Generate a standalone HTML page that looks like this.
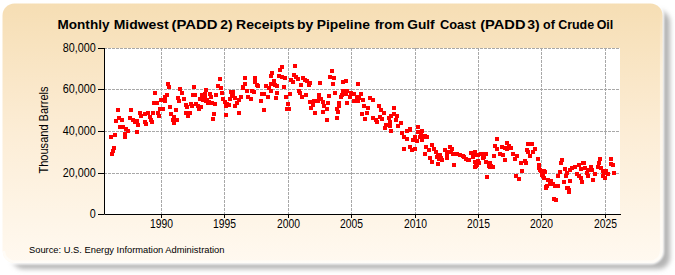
<!DOCTYPE html>
<html><head><meta charset="utf-8"><style>
html,body{margin:0;padding:0;background:#fff;width:675px;height:275px;overflow:hidden}
svg{display:block}
text{font-family:"Liberation Sans",sans-serif}
</style></head><body>
<svg width="675" height="275" viewBox="0 0 675 275">
<defs>
<linearGradient id="bg" x1="0" y1="0" x2="0" y2="1">
<stop offset="0" stop-color="#F6DEB4"/>
<stop offset="0.5" stop-color="#FCEDD6"/>
<stop offset="1" stop-color="#FFF9F0"/>
</linearGradient>
<linearGradient id="hl" x1="0" y1="0" x2="0" y2="1"><stop offset="0" stop-color="#fffdf9" stop-opacity="0"/><stop offset="0.25" stop-color="#fffdf9" stop-opacity="0.6"/><stop offset="1" stop-color="#fffdf9" stop-opacity="1"/></linearGradient>
<filter id="sh" x="-5%" y="-5%" width="110%" height="110%"><feGaussianBlur stdDeviation="2.5"/></filter>
<filter id="gl" x="-3%" y="-3%" width="106%" height="106%"><feGaussianBlur stdDeviation="1.3"/></filter>
<filter id="bl" x="-2%" y="-2%" width="104%" height="104%"><feGaussianBlur stdDeviation="0.7"/></filter>
</defs>
<rect x="12" y="10.5" width="658" height="258.5" rx="12" fill="#b4b4b4" filter="url(#sh)"/>
<rect x="2.5" y="3.5" width="660" height="259.5" rx="12" fill="none" stroke="#fff" stroke-width="3" filter="url(#gl)"/>
<g filter="url(#bl)"><rect x="2.5" y="3.5" width="660" height="259.5" rx="12" fill="url(#bg)"/>
<path d="M661.2 8V250.5A11 11 0 0 1 650.2 261.7H14.5A11 11 0 0 1 3.8 251" fill="none" stroke="url(#hl)" stroke-width="2.5" opacity="0.8"/></g>
<rect x="105" y="48" width="515" height="166" fill="#fff"/>
<path d="M104 48.5H620M104 89.5H620M104 131.5H620M104 173.5H620M161.5 48V214M224.5 48V214M288.5 48V214M351.5 48V214M415.5 48V214M478.5 48V214M541.5 48V214M605.5 48V214" stroke="#a8a8a8" stroke-width="1" stroke-dasharray="3 1" fill="none"/>
<path d="M104.5 48V214.5H621" stroke="#000" stroke-width="1" fill="none"/>
<path d="M98 48.5H104M98 89.5H104M98 131.5H104M98 173.5H104M98 214.5H104M161.5 214V218M224.5 214V218M288.5 214V218M351.5 214V218M415.5 214V218M478.5 214V218M541.5 214V218M605.5 214V218" stroke="#000" stroke-width="1" fill="none"/>
<g font-size="12" fill="#000"><text x="95.8" y="52" text-anchor="end" textLength="33.0" lengthAdjust="spacingAndGlyphs">80,000</text><text x="95.8" y="93" text-anchor="end" textLength="33.0" lengthAdjust="spacingAndGlyphs">60,000</text><text x="95.8" y="135" text-anchor="end" textLength="33.0" lengthAdjust="spacingAndGlyphs">40,000</text><text x="95.8" y="177" text-anchor="end" textLength="33.0" lengthAdjust="spacingAndGlyphs">20,000</text><text x="95.8" y="218" text-anchor="end" textLength="6.0" lengthAdjust="spacingAndGlyphs">0</text><text x="161.5" y="228" text-anchor="middle" textLength="23.0" lengthAdjust="spacingAndGlyphs">1990</text><text x="224.5" y="228" text-anchor="middle" textLength="23.0" lengthAdjust="spacingAndGlyphs">1995</text><text x="288.5" y="228" text-anchor="middle" textLength="23.0" lengthAdjust="spacingAndGlyphs">2000</text><text x="351.5" y="228" text-anchor="middle" textLength="23.0" lengthAdjust="spacingAndGlyphs">2005</text><text x="415.5" y="228" text-anchor="middle" textLength="23.0" lengthAdjust="spacingAndGlyphs">2010</text><text x="478.5" y="228" text-anchor="middle" textLength="23.0" lengthAdjust="spacingAndGlyphs">2015</text><text x="541.5" y="228" text-anchor="middle" textLength="23.0" lengthAdjust="spacingAndGlyphs">2020</text><text x="605.5" y="228" text-anchor="middle" textLength="23.0" lengthAdjust="spacingAndGlyphs">2025</text></g>
<g font-size="13.55" font-weight="bold" fill="#000"><text x="57.6" y="29" textLength="51.82" lengthAdjust="spacingAndGlyphs">Monthly</text><text x="113.67" y="29" textLength="55.07" lengthAdjust="spacingAndGlyphs">Midwest</text><text x="171.6" y="29" textLength="45.97" lengthAdjust="spacingAndGlyphs">(PADD</text><text x="220.3" y="29" textLength="12.4" lengthAdjust="spacingAndGlyphs">2)</text><text x="236.07" y="29" textLength="58.44" lengthAdjust="spacingAndGlyphs">Receipts</text><text x="297.07" y="29" textLength="16.34" lengthAdjust="spacingAndGlyphs">by</text><text x="316.78" y="29" textLength="53.07" lengthAdjust="spacingAndGlyphs">Pipeline</text><text x="374.7" y="29" textLength="29.59" lengthAdjust="spacingAndGlyphs">from</text><text x="407.3" y="29" textLength="27.39" lengthAdjust="spacingAndGlyphs">Gulf</text><text x="440.0" y="29" textLength="35.66" lengthAdjust="spacingAndGlyphs">Coast</text><text x="480.22" y="29" textLength="45.24" lengthAdjust="spacingAndGlyphs">(PADD</text><text x="527.3" y="29" textLength="12.4" lengthAdjust="spacingAndGlyphs">3)</text><text x="543.02" y="29" textLength="11.77" lengthAdjust="spacingAndGlyphs">of</text><text x="558.16" y="29" textLength="36.01" lengthAdjust="spacingAndGlyphs">Crude</text><text x="596.68" y="29" textLength="16.63" lengthAdjust="spacingAndGlyphs">Oil</text></g>
<text transform="translate(48,130) rotate(-90)" text-anchor="middle" font-size="12" textLength="87" lengthAdjust="spacingAndGlyphs" fill="#000">Thousand Barrels</text>
<text x="29" y="253" font-size="9.33" fill="#000">Source: U.S. Energy Information Administration</text>
<path d="M166 82h4v4h-4zM167 85h4v4h-4zM153 91h4v4h-4zM165 93h4v4h-4zM163 95h4v4h-4zM159 98h4v4h-4zM163 99h4v4h-4zM152 101h4v4h-4zM155 101h4v4h-4zM178 87h4v4h-4zM180 91h4v4h-4zM176 96h4v4h-4zM177 99h4v4h-4zM182 97h4v4h-4zM192 85h4v4h-4zM191 93h4v4h-4zM184 103h4v4h-4zM116 108h4v4h-4zM129 108h4v4h-4zM138 111h4v4h-4zM146 111h4v4h-4zM139 114h4v4h-4zM143 120h4v4h-4zM144 122h4v4h-4zM117 116h4v4h-4zM120 118h4v4h-4zM114 119h4v4h-4zM128 116h4v4h-4zM131 118h4v4h-4zM133 120h4v4h-4zM135 119h4v4h-4zM136 123h4v4h-4zM118 125h4v4h-4zM121 125h4v4h-4zM124 127h4v4h-4zM126 129h4v4h-4zM135 130h4v4h-4zM109 135h4v4h-4zM113 133h4v4h-4zM123 132h4v4h-4zM123 135h4v4h-4zM112 146h4v4h-4zM111 149h4v4h-4zM110 152h4v4h-4zM158 107h4v4h-4zM161 107h4v4h-4zM168 105h4v4h-4zM174 108h4v4h-4zM184 111h4v4h-4zM188 111h4v4h-4zM186 114h4v4h-4zM150 120h4v4h-4zM156 111h4v4h-4zM157 114h4v4h-4zM169 112h4v4h-4zM172 115h4v4h-4zM171 118h4v4h-4zM175 118h4v4h-4zM172 121h4v4h-4zM218 77h4v4h-4zM216 84h4v4h-4zM219 86h4v4h-4zM204 88h4v4h-4zM220 91h4v4h-4zM231 90h4v4h-4zM200 93h4v4h-4zM203 94h4v4h-4zM208 92h4v4h-4zM209 95h4v4h-4zM214 93h4v4h-4zM229 90h4v4h-4zM231 93h4v4h-4zM198 97h4v4h-4zM201 98h4v4h-4zM204 99h4v4h-4zM206 101h4v4h-4zM210 101h4v4h-4zM213 102h4v4h-4zM221 97h4v4h-4zM223 100h4v4h-4zM225 102h4v4h-4zM224 104h4v4h-4zM228 97h4v4h-4zM194 102h4v4h-4zM196 104h4v4h-4zM199 105h4v4h-4zM233 104h4v4h-4zM212 112h4v4h-4zM211 117h4v4h-4zM224 113h4v4h-4zM293 64h4v4h-4zM280 65h4v4h-4zM278 68h4v4h-4zM243 76h4v4h-4zM253 76h4v4h-4zM270 71h4v4h-4zM269 74h4v4h-4zM277 74h4v4h-4zM280 75h4v4h-4zM283 76h4v4h-4zM292 73h4v4h-4zM294 75h4v4h-4zM296 77h4v4h-4zM301 76h4v4h-4zM305 79h4v4h-4zM308 81h4v4h-4zM289 78h4v4h-4zM291 80h4v4h-4zM243 82h4v4h-4zM241 85h4v4h-4zM253 80h4v4h-4zM255 83h4v4h-4zM256 84h4v4h-4zM264 84h4v4h-4zM267 86h4v4h-4zM272 79h4v4h-4zM269 82h4v4h-4zM273 83h4v4h-4zM275 84h4v4h-4zM282 85h4v4h-4zM299 83h4v4h-4zM307 83h4v4h-4zM318 81h4v4h-4zM230 94h4v4h-4zM233 96h4v4h-4zM241 86h4v4h-4zM245 89h4v4h-4zM250 89h4v4h-4zM252 90h4v4h-4zM239 95h4v4h-4zM237 98h4v4h-4zM235 101h4v4h-4zM246 95h4v4h-4zM249 97h4v4h-4zM260 92h4v4h-4zM262 92h4v4h-4zM269 89h4v4h-4zM266 95h4v4h-4zM275 91h4v4h-4zM274 96h4v4h-4zM259 99h4v4h-4zM262 108h4v4h-4zM288 92h4v4h-4zM284 95h4v4h-4zM286 102h4v4h-4zM285 107h4v4h-4zM287 107h4v4h-4zM297 89h4v4h-4zM300 95h4v4h-4zM304 93h4v4h-4zM308 100h4v4h-4zM312 99h4v4h-4zM316 99h4v4h-4zM311 103h4v4h-4zM317 93h4v4h-4zM317 96h4v4h-4zM309 106h4v4h-4zM313 111h4v4h-4zM237 111h4v4h-4zM330 69h4v4h-4zM328 75h4v4h-4zM332 76h4v4h-4zM331 82h4v4h-4zM341 80h4v4h-4zM344 79h4v4h-4zM356 82h4v4h-4zM319 97h4v4h-4zM321 100h4v4h-4zM327 94h4v4h-4zM333 91h4v4h-4zM368 96h4v4h-4zM371 98h4v4h-4zM326 101h4v4h-4zM322 104h4v4h-4zM325 107h4v4h-4zM337 104h4v4h-4zM335 107h4v4h-4zM336 110h4v4h-4zM321 110h4v4h-4zM362 104h4v4h-4zM366 106h4v4h-4zM360 112h4v4h-4zM365 111h4v4h-4zM325 118h4v4h-4zM335 116h4v4h-4zM363 117h4v4h-4zM377 104h4v4h-4zM379 108h4v4h-4zM392 106h4v4h-4zM389 129h4v4h-4zM400 131h4v4h-4zM408 128h4v4h-4zM402 135h4v4h-4zM405 137h4v4h-4zM416 125h4v4h-4zM416 130h4v4h-4zM419 131h4v4h-4zM413 135h4v4h-4zM418 135h4v4h-4zM411 138h4v4h-4zM415 139h4v4h-4zM420 138h4v4h-4zM423 134h4v4h-4zM425 135h4v4h-4zM421 134h4v4h-4zM424 135h4v4h-4zM402 147h4v4h-4zM408 145h4v4h-4zM410 148h4v4h-4zM413 147h4v4h-4zM424 145h4v4h-4zM430 143h4v4h-4zM423 152h4v4h-4zM428 156h4v4h-4zM430 160h4v4h-4zM436 162h4v4h-4zM448 145h4v4h-4zM452 163h4v4h-4zM466 158h4v4h-4zM469 151h4v4h-4zM473 150h4v4h-4zM471 155h4v4h-4zM476 153h4v4h-4zM467 158h4v4h-4zM473 160h4v4h-4zM476 159h4v4h-4zM474 164h4v4h-4zM479 152h4v4h-4zM484 152h4v4h-4zM481 156h4v4h-4zM495 137h4v4h-4zM493 144h4v4h-4zM500 145h4v4h-4zM505 141h4v4h-4zM526 142h4v4h-4zM530 142h4v4h-4zM525 148h4v4h-4zM533 147h4v4h-4zM531 150h4v4h-4zM470 151h4v4h-4zM472 153h4v4h-4zM483 152h4v4h-4zM482 155h4v4h-4zM475 163h4v4h-4zM484 160h4v4h-4zM488 161h4v4h-4zM489 164h4v4h-4zM488 165h4v4h-4zM492 154h4v4h-4zM498 152h4v4h-4zM503 158h4v4h-4zM511 152h4v4h-4zM523 159h4v4h-4zM524 161h4v4h-4zM520 169h4v4h-4zM514 174h4v4h-4zM517 177h4v4h-4zM485 175h4v4h-4zM526 150h4v4h-4zM528 154h4v4h-4zM536 157h4v4h-4zM537 163h4v4h-4zM537 166h4v4h-4zM539 169h4v4h-4zM543 170h4v4h-4zM540 173h4v4h-4zM546 178h4v4h-4zM553 184h4v4h-4zM538 168h4v4h-4zM542 169h4v4h-4zM541 174h4v4h-4zM544 185h4v4h-4zM556 184h4v4h-4zM552 197h4v4h-4zM554 198h4v4h-4zM562 180h4v4h-4zM566 186h4v4h-4zM567 190h4v4h-4zM560 158h4v4h-4zM559 161h4v4h-4zM598 157h4v4h-4zM597 161h4v4h-4zM609 157h4v4h-4zM565 186h4v4h-4zM567 188h4v4h-4zM227 103h4v4h-4zM298 91h4v4h-4zM337 101h4v4h-4zM382 111h4v4h-4zM371 116h4v4h-4zM374 118h4v4h-4zM375 120h4v4h-4zM378 115h4v4h-4zM380 117h4v4h-4zM387 116h4v4h-4zM392 112h4v4h-4zM389 114h4v4h-4zM395 114h4v4h-4zM394 118h4v4h-4zM388 120h4v4h-4zM384 123h4v4h-4zM388 124h4v4h-4zM399 121h4v4h-4zM396 124h4v4h-4zM383 126h4v4h-4zM408 127h4v4h-4zM405 129h4v4h-4zM420 129h4v4h-4zM568 179h4v4h-4zM580 180h4v4h-4zM582 161h4v4h-4zM556 174h4v4h-4zM558 170h4v4h-4zM563 167h4v4h-4zM565 171h4v4h-4zM564 174h4v4h-4zM568 168h4v4h-4zM570 166h4v4h-4zM573 165h4v4h-4zM577 163h4v4h-4zM581 161h4v4h-4zM579 167h4v4h-4zM583 166h4v4h-4zM586 168h4v4h-4zM589 165h4v4h-4zM590 168h4v4h-4zM575 172h4v4h-4zM577 174h4v4h-4zM579 176h4v4h-4zM585 171h4v4h-4zM586 174h4v4h-4zM593 172h4v4h-4zM591 178h4v4h-4zM596 165h4v4h-4zM599 166h4v4h-4zM601 169h4v4h-4zM602 171h4v4h-4zM601 174h4v4h-4zM604 169h4v4h-4zM606 172h4v4h-4zM603 176h4v4h-4zM609 162h4v4h-4zM611 163h4v4h-4zM612 171h4v4h-4zM544 186h4v4h-4zM545 184h4v4h-4zM548 182h4v4h-4zM549 179h4v4h-4zM551 182h4v4h-4zM555 184h4v4h-4zM542 176h4v4h-4zM473 165h4v4h-4zM477 161h4v4h-4zM491 165h4v4h-4zM487 164h4v4h-4zM185 105h4v4h-4zM189 102h4v4h-4zM190 104h4v4h-4zM197 107h4v4h-4zM193 93h4v4h-4zM203 92h4v4h-4zM199 97h4v4h-4zM205 98h4v4h-4zM207 100h4v4h-4zM143 112h4v4h-4zM149 118h4v4h-4zM151 111h4v4h-4zM148 115h4v4h-4zM341 89h4v4h-4zM345 89h4v4h-4zM340 93h4v4h-4zM339 95h4v4h-4zM344 92h4v4h-4zM349 91h4v4h-4zM352 92h4v4h-4zM355 95h4v4h-4zM359 92h4v4h-4zM357 96h4v4h-4zM361 98h4v4h-4zM352 99h4v4h-4zM356 99h4v4h-4zM348 95h4v4h-4zM345 101h4v4h-4zM427 148h4v4h-4zM432 147h4v4h-4zM434 150h4v4h-4zM436 154h4v4h-4zM439 156h4v4h-4zM440 158h4v4h-4zM443 148h4v4h-4zM445 150h4v4h-4zM445 153h4v4h-4zM445 156h4v4h-4zM450 147h4v4h-4zM449 150h4v4h-4zM451 152h4v4h-4zM455 152h4v4h-4zM458 153h4v4h-4zM461 154h4v4h-4zM462 155h4v4h-4zM464 157h4v4h-4zM435 155h4v4h-4zM437 157h4v4h-4zM438 153h4v4h-4zM495 147h4v4h-4zM505 147h4v4h-4zM509 146h4v4h-4zM507 144h4v4h-4zM501 153h4v4h-4zM515 154h4v4h-4zM513 157h4v4h-4zM519 161h4v4h-4zM503 146h4v4h-4zM303 78h4v4h-4z" fill="#f00"/>
</svg>
</body></html>
